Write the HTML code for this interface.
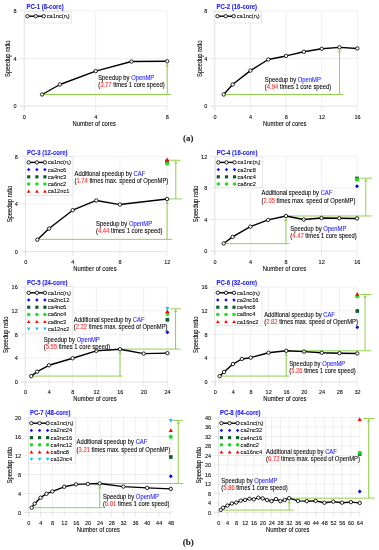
<!DOCTYPE html>
<html><head><meta charset="utf-8"><style>
html,body{margin:0;padding:0;background:#fff;}
svg{display:block;font-family:"Liberation Sans",sans-serif;}
text{stroke-width:0.08px;}

</style></head><body>
<svg width="379" height="550" viewBox="0 0 379 550" xmlns="http://www.w3.org/2000/svg">
<defs><filter id="bl" x="0" y="0" width="100%" height="100%"><feGaussianBlur stdDeviation="0.3"/></filter></defs>
<rect width="379" height="550" fill="#fff"/>
<g filter="url(#bl)">
<line x1="95.70" y1="10.82" x2="95.70" y2="106.10" stroke="#e6e6e6" stroke-width="0.6"/>
<line x1="167.20" y1="10.82" x2="167.20" y2="106.10" stroke="#e6e6e6" stroke-width="0.6"/>
<line x1="24.20" y1="58.46" x2="167.20" y2="58.46" stroke="#e6e6e6" stroke-width="0.6"/>
<line x1="24.20" y1="10.82" x2="167.20" y2="10.82" stroke="#e6e6e6" stroke-width="0.6"/>
<line x1="24.20" y1="10.82" x2="24.20" y2="110.40" stroke="#d9d9d9" stroke-width="0.7"/>
<line x1="19.90" y1="106.10" x2="167.20" y2="106.10" stroke="#d9d9d9" stroke-width="0.7"/>
<line x1="19.90" y1="106.10" x2="24.20" y2="106.10" stroke="#d9d9d9" stroke-width="0.6"/>
<text transform="translate(16.60,108.30) scale(1,1)" font-size="5.500" text-anchor="end" fill="#000" stroke="#000" font-weight="normal" >0</text>
<line x1="19.90" y1="58.46" x2="24.20" y2="58.46" stroke="#d9d9d9" stroke-width="0.6"/>
<text transform="translate(16.60,60.66) scale(1,1)" font-size="5.500" text-anchor="end" fill="#000" stroke="#000" font-weight="normal" >4</text>
<line x1="19.90" y1="10.82" x2="24.20" y2="10.82" stroke="#d9d9d9" stroke-width="0.6"/>
<text transform="translate(16.60,13.02) scale(1,1)" font-size="5.500" text-anchor="end" fill="#000" stroke="#000" font-weight="normal" >8</text>
<line x1="24.20" y1="106.10" x2="24.20" y2="110.40" stroke="#d9d9d9" stroke-width="0.6"/>
<text transform="translate(24.40,118.60) scale(1,1)" font-size="5.500" text-anchor="middle" fill="#000" stroke="#000" font-weight="normal" >0</text>
<line x1="95.70" y1="106.10" x2="95.70" y2="110.40" stroke="#d9d9d9" stroke-width="0.6"/>
<text transform="translate(95.90,118.60) scale(1,1)" font-size="5.500" text-anchor="middle" fill="#000" stroke="#000" font-weight="normal" >4</text>
<line x1="167.20" y1="106.10" x2="167.20" y2="110.40" stroke="#d9d9d9" stroke-width="0.6"/>
<text transform="translate(167.40,118.60) scale(1,1)" font-size="5.500" text-anchor="middle" fill="#000" stroke="#000" font-weight="normal" >8</text>
<text transform="translate(94.30,125.50) scale(0.933,1)" font-size="6.302" text-anchor="middle" fill="#000" stroke="#000" font-weight="normal" >Number of cores</text>
<text x="0" y="0" font-size="6.302" text-anchor="middle" fill="#000" stroke="#000" transform="translate(10.40,58.66) rotate(-90) scale(0.933,1)">Speedup ratio</text>
<text transform="translate(26.50,8.70) scale(0.933,1)" font-size="6.431" text-anchor="start" fill="#2020ff" stroke="#2020ff" font-weight="bold" >PC-1 (8-core)</text>
<line x1="43.58" y1="94.50" x2="170.70" y2="94.50" stroke="#92d050" stroke-width="1"/>
<line x1="167.20" y1="94.50" x2="167.20" y2="65.34" stroke="#92d050" stroke-width="1"/>
<path d="M167.20 63.34L168.80 66.54L165.60 66.54Z" fill="#92d050"/>
<polyline points="42.08,94.50 59.95,84.50 95.70,71.06 131.45,61.54 167.20,61.30" fill="none" stroke="#000" stroke-width="1.4" stroke-linejoin="round"/>
<circle cx="42.08" cy="94.50" r="1.70" fill="#fff" stroke="#000" stroke-width="0.85"/>
<circle cx="59.95" cy="84.50" r="1.70" fill="#fff" stroke="#000" stroke-width="0.85"/>
<circle cx="95.70" cy="71.06" r="1.70" fill="#fff" stroke="#000" stroke-width="0.85"/>
<circle cx="131.45" cy="61.54" r="1.70" fill="#fff" stroke="#000" stroke-width="0.85"/>
<circle cx="167.20" cy="61.30" r="1.70" fill="#fff" stroke="#000" stroke-width="0.85"/>
<rect x="24.50" y="11.80" width="47.20" height="11.20" fill="#fff" stroke="#d9d9d9" stroke-width="0.6"/>
<line x1="27.50" y1="16.20" x2="43.70" y2="16.20" stroke="#000" stroke-width="1.4"/>
<circle cx="27.50" cy="16.20" r="1.70" fill="#fff" stroke="#000" stroke-width="0.85"/>
<circle cx="35.70" cy="16.20" r="1.70" fill="#fff" stroke="#000" stroke-width="0.85"/>
<circle cx="43.70" cy="16.20" r="1.70" fill="#fff" stroke="#000" stroke-width="0.85"/>
<text transform="translate(46.70,18.20) scale(0.933,1)" font-size="6.109" text-anchor="start" fill="#000" stroke="#000" font-weight="normal" >ca1nc(n<tspan font-size="3.8" dy="1">i</tspan><tspan dy="-1">)</tspan></text>
<text transform="translate(98.20,79.50) scale(0.933,1)" font-size="6.302" text-anchor="start" fill="#000" stroke="#000" font-weight="normal" >Speedup by <tspan fill="#2020ff" stroke="#2020ff">OpenMP</tspan></text>
<text transform="translate(98.20,86.80) scale(0.933,1)" font-size="6.302" text-anchor="start" fill="#000" stroke="#000" font-weight="normal" >(<tspan fill="#ff2a2a" stroke="#ff2a2a">3.77</tspan> times 1 core speed)</text>
<line x1="250.44" y1="10.90" x2="250.44" y2="106.10" stroke="#e6e6e6" stroke-width="0.6"/>
<line x1="286.08" y1="10.90" x2="286.08" y2="106.10" stroke="#e6e6e6" stroke-width="0.6"/>
<line x1="321.72" y1="10.90" x2="321.72" y2="106.10" stroke="#e6e6e6" stroke-width="0.6"/>
<line x1="357.36" y1="10.90" x2="357.36" y2="106.10" stroke="#e6e6e6" stroke-width="0.6"/>
<line x1="214.80" y1="58.50" x2="357.36" y2="58.50" stroke="#e6e6e6" stroke-width="0.6"/>
<line x1="214.80" y1="10.90" x2="357.36" y2="10.90" stroke="#e6e6e6" stroke-width="0.6"/>
<line x1="214.80" y1="10.90" x2="214.80" y2="110.40" stroke="#d9d9d9" stroke-width="0.7"/>
<line x1="210.50" y1="106.10" x2="357.36" y2="106.10" stroke="#d9d9d9" stroke-width="0.7"/>
<line x1="210.50" y1="106.10" x2="214.80" y2="106.10" stroke="#d9d9d9" stroke-width="0.6"/>
<text transform="translate(207.20,108.30) scale(1,1)" font-size="5.500" text-anchor="end" fill="#000" stroke="#000" font-weight="normal" >0</text>
<line x1="210.50" y1="58.50" x2="214.80" y2="58.50" stroke="#d9d9d9" stroke-width="0.6"/>
<text transform="translate(207.20,60.70) scale(1,1)" font-size="5.500" text-anchor="end" fill="#000" stroke="#000" font-weight="normal" >4</text>
<line x1="210.50" y1="10.90" x2="214.80" y2="10.90" stroke="#d9d9d9" stroke-width="0.6"/>
<text transform="translate(207.20,13.10) scale(1,1)" font-size="5.500" text-anchor="end" fill="#000" stroke="#000" font-weight="normal" >8</text>
<line x1="214.80" y1="106.10" x2="214.80" y2="110.40" stroke="#d9d9d9" stroke-width="0.6"/>
<text transform="translate(215.00,118.60) scale(1,1)" font-size="5.500" text-anchor="middle" fill="#000" stroke="#000" font-weight="normal" >0</text>
<line x1="250.44" y1="106.10" x2="250.44" y2="110.40" stroke="#d9d9d9" stroke-width="0.6"/>
<text transform="translate(250.64,118.60) scale(1,1)" font-size="5.500" text-anchor="middle" fill="#000" stroke="#000" font-weight="normal" >4</text>
<line x1="286.08" y1="106.10" x2="286.08" y2="110.40" stroke="#d9d9d9" stroke-width="0.6"/>
<text transform="translate(286.28,118.60) scale(1,1)" font-size="5.500" text-anchor="middle" fill="#000" stroke="#000" font-weight="normal" >8</text>
<line x1="321.72" y1="106.10" x2="321.72" y2="110.40" stroke="#d9d9d9" stroke-width="0.6"/>
<text transform="translate(321.92,118.60) scale(1,1)" font-size="5.500" text-anchor="middle" fill="#000" stroke="#000" font-weight="normal" >12</text>
<line x1="357.36" y1="106.10" x2="357.36" y2="110.40" stroke="#d9d9d9" stroke-width="0.6"/>
<text transform="translate(357.56,118.60) scale(1,1)" font-size="5.500" text-anchor="middle" fill="#000" stroke="#000" font-weight="normal" >16</text>
<text transform="translate(284.68,125.50) scale(0.933,1)" font-size="6.302" text-anchor="middle" fill="#000" stroke="#000" font-weight="normal" >Number of cores</text>
<text x="0" y="0" font-size="6.302" text-anchor="middle" fill="#000" stroke="#000" transform="translate(201.60,58.70) rotate(-90) scale(0.933,1)">Speedup ratio</text>
<text transform="translate(216.50,8.70) scale(0.933,1)" font-size="6.431" text-anchor="start" fill="#2020ff" stroke="#2020ff" font-weight="bold" >PC-2 (16-core)</text>
<line x1="225.21" y1="94.50" x2="343.04" y2="94.50" stroke="#92d050" stroke-width="1"/>
<line x1="339.54" y1="94.50" x2="339.54" y2="51.41" stroke="#92d050" stroke-width="1"/>
<path d="M339.54 49.41L341.14 52.61L337.94 52.61Z" fill="#92d050"/>
<polyline points="223.71,94.50 232.62,84.50 250.44,70.58 268.26,59.51 286.08,55.94 303.90,51.78 321.72,48.80 339.54,47.38 357.36,48.45" fill="none" stroke="#000" stroke-width="1.4" stroke-linejoin="round"/>
<circle cx="223.71" cy="94.50" r="1.70" fill="#fff" stroke="#000" stroke-width="0.85"/>
<circle cx="232.62" cy="84.50" r="1.70" fill="#fff" stroke="#000" stroke-width="0.85"/>
<circle cx="250.44" cy="70.58" r="1.70" fill="#fff" stroke="#000" stroke-width="0.85"/>
<circle cx="268.26" cy="59.51" r="1.70" fill="#fff" stroke="#000" stroke-width="0.85"/>
<circle cx="286.08" cy="55.94" r="1.70" fill="#fff" stroke="#000" stroke-width="0.85"/>
<circle cx="303.90" cy="51.78" r="1.70" fill="#fff" stroke="#000" stroke-width="0.85"/>
<circle cx="321.72" cy="48.80" r="1.70" fill="#fff" stroke="#000" stroke-width="0.85"/>
<circle cx="339.54" cy="47.38" r="1.70" fill="#fff" stroke="#000" stroke-width="0.85"/>
<circle cx="357.36" cy="48.45" r="1.70" fill="#fff" stroke="#000" stroke-width="0.85"/>
<rect x="214.50" y="11.80" width="47.20" height="11.20" fill="#fff" stroke="#d9d9d9" stroke-width="0.6"/>
<line x1="217.50" y1="16.20" x2="233.70" y2="16.20" stroke="#000" stroke-width="1.4"/>
<circle cx="217.50" cy="16.20" r="1.70" fill="#fff" stroke="#000" stroke-width="0.85"/>
<circle cx="225.70" cy="16.20" r="1.70" fill="#fff" stroke="#000" stroke-width="0.85"/>
<circle cx="233.70" cy="16.20" r="1.70" fill="#fff" stroke="#000" stroke-width="0.85"/>
<text transform="translate(236.70,18.20) scale(0.933,1)" font-size="6.109" text-anchor="start" fill="#000" stroke="#000" font-weight="normal" >ca1nc(n<tspan font-size="3.8" dy="1">i</tspan><tspan dy="-1">)</tspan></text>
<text transform="translate(264.80,81.60) scale(0.933,1)" font-size="6.302" text-anchor="start" fill="#000" stroke="#000" font-weight="normal" >Speedup by <tspan fill="#2020ff" stroke="#2020ff">OpenMP</tspan></text>
<text transform="translate(264.80,88.90) scale(0.933,1)" font-size="6.302" text-anchor="start" fill="#000" stroke="#000" font-weight="normal" >(<tspan fill="#ff2a2a" stroke="#ff2a2a">4.94</tspan> times 1 core speed)</text>
<line x1="72.70" y1="156.30" x2="72.70" y2="251.50" stroke="#e6e6e6" stroke-width="0.6"/>
<line x1="119.90" y1="156.30" x2="119.90" y2="251.50" stroke="#e6e6e6" stroke-width="0.6"/>
<line x1="167.10" y1="156.30" x2="167.10" y2="251.50" stroke="#e6e6e6" stroke-width="0.6"/>
<line x1="25.50" y1="203.90" x2="167.10" y2="203.90" stroke="#e6e6e6" stroke-width="0.6"/>
<line x1="25.50" y1="156.30" x2="167.10" y2="156.30" stroke="#e6e6e6" stroke-width="0.6"/>
<line x1="25.50" y1="156.30" x2="25.50" y2="255.80" stroke="#d9d9d9" stroke-width="0.7"/>
<line x1="21.20" y1="251.50" x2="167.10" y2="251.50" stroke="#d9d9d9" stroke-width="0.7"/>
<line x1="21.20" y1="251.50" x2="25.50" y2="251.50" stroke="#d9d9d9" stroke-width="0.6"/>
<text transform="translate(17.90,253.70) scale(1,1)" font-size="5.500" text-anchor="end" fill="#000" stroke="#000" font-weight="normal" >0</text>
<line x1="21.20" y1="203.90" x2="25.50" y2="203.90" stroke="#d9d9d9" stroke-width="0.6"/>
<text transform="translate(17.90,206.10) scale(1,1)" font-size="5.500" text-anchor="end" fill="#000" stroke="#000" font-weight="normal" >4</text>
<line x1="21.20" y1="156.30" x2="25.50" y2="156.30" stroke="#d9d9d9" stroke-width="0.6"/>
<text transform="translate(17.90,158.50) scale(1,1)" font-size="5.500" text-anchor="end" fill="#000" stroke="#000" font-weight="normal" >8</text>
<line x1="25.50" y1="251.50" x2="25.50" y2="255.80" stroke="#d9d9d9" stroke-width="0.6"/>
<text transform="translate(25.70,264.00) scale(1,1)" font-size="5.500" text-anchor="middle" fill="#000" stroke="#000" font-weight="normal" >0</text>
<line x1="72.70" y1="251.50" x2="72.70" y2="255.80" stroke="#d9d9d9" stroke-width="0.6"/>
<text transform="translate(72.90,264.00) scale(1,1)" font-size="5.500" text-anchor="middle" fill="#000" stroke="#000" font-weight="normal" >4</text>
<line x1="119.90" y1="251.50" x2="119.90" y2="255.80" stroke="#d9d9d9" stroke-width="0.6"/>
<text transform="translate(120.10,264.00) scale(1,1)" font-size="5.500" text-anchor="middle" fill="#000" stroke="#000" font-weight="normal" >8</text>
<line x1="167.10" y1="251.50" x2="167.10" y2="255.80" stroke="#d9d9d9" stroke-width="0.6"/>
<text transform="translate(167.30,264.00) scale(1,1)" font-size="5.500" text-anchor="middle" fill="#000" stroke="#000" font-weight="normal" >12</text>
<text transform="translate(94.90,270.90) scale(0.933,1)" font-size="6.302" text-anchor="middle" fill="#000" stroke="#000" font-weight="normal" >Number of cores</text>
<text x="0" y="0" font-size="6.302" text-anchor="middle" fill="#000" stroke="#000" transform="translate(11.80,204.10) rotate(-90) scale(0.933,1)">Speedup ratio</text>
<text transform="translate(27.00,154.50) scale(0.933,1)" font-size="6.431" text-anchor="start" fill="#2020ff" stroke="#2020ff" font-weight="bold" >PC-3 (12-core)</text>
<line x1="38.80" y1="239.35" x2="172.30" y2="239.35" stroke="#92d050" stroke-width="1"/>
<line x1="167.10" y1="239.35" x2="167.10" y2="202.73" stroke="#92d050" stroke-width="1"/>
<path d="M167.10 200.73L168.70 203.93L165.50 203.93Z" fill="#92d050"/>
<line x1="168.90" y1="198.93" x2="182.30" y2="198.93" stroke="#92d050" stroke-width="1"/>
<line x1="169.60" y1="160.27" x2="180.60" y2="160.27" stroke="#92d050" stroke-width="1"/>
<line x1="175.80" y1="198.93" x2="175.80" y2="162.27" stroke="#92d050" stroke-width="1"/>
<path d="M175.80 160.27L177.40 163.47L174.20 163.47Z" fill="#92d050"/>
<polyline points="37.30,239.70 49.10,228.54 72.70,210.21 96.30,200.46 119.90,204.57 167.10,199.05" fill="none" stroke="#000" stroke-width="1.4" stroke-linejoin="round"/>
<circle cx="37.30" cy="239.70" r="1.70" fill="#fff" stroke="#000" stroke-width="0.85"/>
<circle cx="49.10" cy="228.54" r="1.70" fill="#fff" stroke="#000" stroke-width="0.85"/>
<circle cx="72.70" cy="210.21" r="1.70" fill="#fff" stroke="#000" stroke-width="0.85"/>
<circle cx="96.30" cy="200.46" r="1.70" fill="#fff" stroke="#000" stroke-width="0.85"/>
<circle cx="119.90" cy="204.57" r="1.70" fill="#fff" stroke="#000" stroke-width="0.85"/>
<circle cx="167.10" cy="199.05" r="1.70" fill="#fff" stroke="#000" stroke-width="0.85"/>
<path d="M167.10 160.44L169.05 162.39L167.10 164.34L165.15 162.39Z" fill="#0000ff"/>
<rect x="165.28" y="159.75" width="3.64" height="3.64" fill="#0a5c2a"/>
<circle cx="167.10" cy="163.56" r="2.08" fill="#22dd22"/>
<path d="M167.10 157.60L169.18 161.35L165.02 161.35Z" fill="#ff0000"/>
<rect x="25.70" y="156.90" width="47.20" height="38.48" fill="#fff" stroke="#d9d9d9" stroke-width="0.6"/>
<line x1="28.70" y1="162.40" x2="44.90" y2="162.40" stroke="#000" stroke-width="1.4"/>
<circle cx="28.70" cy="162.40" r="1.70" fill="#fff" stroke="#000" stroke-width="0.85"/>
<circle cx="36.90" cy="162.40" r="1.70" fill="#fff" stroke="#000" stroke-width="0.85"/>
<circle cx="44.90" cy="162.40" r="1.70" fill="#fff" stroke="#000" stroke-width="0.85"/>
<text transform="translate(47.90,164.40) scale(0.933,1)" font-size="6.109" text-anchor="start" fill="#000" stroke="#000" font-weight="normal" >ca1nc(n<tspan font-size="3.8" dy="1">i</tspan><tspan dy="-1">)</tspan></text>
<path d="M28.70 167.94L30.38 169.62L28.70 171.30L27.02 169.62Z" fill="#0000ff"/>
<path d="M36.90 167.94L38.58 169.62L36.90 171.30L35.22 169.62Z" fill="#0000ff"/>
<path d="M44.90 167.94L46.58 169.62L44.90 171.30L43.22 169.62Z" fill="#0000ff"/>
<text transform="translate(47.90,171.62) scale(0.933,1)" font-size="6.109" text-anchor="start" fill="#000" stroke="#000" font-weight="normal" >ca2nc6</text>
<rect x="27.13" y="175.27" width="3.14" height="3.14" fill="#0a5c2a"/>
<rect x="35.33" y="175.27" width="3.14" height="3.14" fill="#0a5c2a"/>
<rect x="43.33" y="175.27" width="3.14" height="3.14" fill="#0a5c2a"/>
<text transform="translate(47.90,178.84) scale(0.933,1)" font-size="6.109" text-anchor="start" fill="#000" stroke="#000" font-weight="normal" >ca4nc3</text>
<circle cx="28.70" cy="184.06" r="1.79" fill="#22dd22"/>
<circle cx="36.90" cy="184.06" r="1.79" fill="#22dd22"/>
<circle cx="44.90" cy="184.06" r="1.79" fill="#22dd22"/>
<text transform="translate(47.90,186.06) scale(0.933,1)" font-size="6.109" text-anchor="start" fill="#000" stroke="#000" font-weight="normal" >ca6nc2</text>
<path d="M28.70 189.49L30.49 192.71L26.91 192.71Z" fill="#ff0000"/>
<path d="M36.90 189.49L38.69 192.71L35.11 192.71Z" fill="#ff0000"/>
<path d="M44.90 189.49L46.69 192.71L43.11 192.71Z" fill="#ff0000"/>
<text transform="translate(47.90,193.28) scale(0.933,1)" font-size="6.109" text-anchor="start" fill="#000" stroke="#000" font-weight="normal" >ca12nc1</text>
<text transform="translate(74.50,175.80) scale(0.933,1)" font-size="6.270" text-anchor="start" fill="#000" stroke="#000" font-weight="normal" >Additional speedup by <tspan fill="#2020ff" stroke="#2020ff">CAF</tspan></text>
<text transform="translate(74.50,183.10) scale(0.933,1)" font-size="6.270" text-anchor="start" fill="#000" stroke="#000" font-weight="normal" >(<tspan fill="#ff2a2a" stroke="#ff2a2a">1.74</tspan> times max. speed of OpenMP)</text>
<text transform="translate(96.00,226.10) scale(0.933,1)" font-size="6.302" text-anchor="start" fill="#000" stroke="#000" font-weight="normal" >Speedup by <tspan fill="#2020ff" stroke="#2020ff">OpenMP</tspan></text>
<text transform="translate(96.00,233.40) scale(0.933,1)" font-size="6.302" text-anchor="start" fill="#000" stroke="#000" font-weight="normal" >(<tspan fill="#ff2a2a" stroke="#ff2a2a">4.44</tspan> times 1 core speed)</text>
<line x1="250.36" y1="156.30" x2="250.36" y2="251.10" stroke="#e6e6e6" stroke-width="0.6"/>
<line x1="285.92" y1="156.30" x2="285.92" y2="251.10" stroke="#e6e6e6" stroke-width="0.6"/>
<line x1="321.48" y1="156.30" x2="321.48" y2="251.10" stroke="#e6e6e6" stroke-width="0.6"/>
<line x1="357.04" y1="156.30" x2="357.04" y2="251.10" stroke="#e6e6e6" stroke-width="0.6"/>
<line x1="214.80" y1="219.50" x2="357.04" y2="219.50" stroke="#e6e6e6" stroke-width="0.6"/>
<line x1="214.80" y1="187.90" x2="357.04" y2="187.90" stroke="#e6e6e6" stroke-width="0.6"/>
<line x1="214.80" y1="156.30" x2="357.04" y2="156.30" stroke="#e6e6e6" stroke-width="0.6"/>
<line x1="214.80" y1="156.30" x2="214.80" y2="255.40" stroke="#d9d9d9" stroke-width="0.7"/>
<line x1="210.50" y1="251.10" x2="357.04" y2="251.10" stroke="#d9d9d9" stroke-width="0.7"/>
<line x1="210.50" y1="251.10" x2="214.80" y2="251.10" stroke="#d9d9d9" stroke-width="0.6"/>
<text transform="translate(207.20,253.30) scale(1,1)" font-size="5.500" text-anchor="end" fill="#000" stroke="#000" font-weight="normal" >0</text>
<line x1="210.50" y1="219.50" x2="214.80" y2="219.50" stroke="#d9d9d9" stroke-width="0.6"/>
<text transform="translate(207.20,221.70) scale(1,1)" font-size="5.500" text-anchor="end" fill="#000" stroke="#000" font-weight="normal" >4</text>
<line x1="210.50" y1="187.90" x2="214.80" y2="187.90" stroke="#d9d9d9" stroke-width="0.6"/>
<text transform="translate(207.20,190.10) scale(1,1)" font-size="5.500" text-anchor="end" fill="#000" stroke="#000" font-weight="normal" >8</text>
<line x1="210.50" y1="156.30" x2="214.80" y2="156.30" stroke="#d9d9d9" stroke-width="0.6"/>
<text transform="translate(207.20,158.50) scale(1,1)" font-size="5.500" text-anchor="end" fill="#000" stroke="#000" font-weight="normal" >12</text>
<line x1="214.80" y1="251.10" x2="214.80" y2="255.40" stroke="#d9d9d9" stroke-width="0.6"/>
<text transform="translate(215.00,263.60) scale(1,1)" font-size="5.500" text-anchor="middle" fill="#000" stroke="#000" font-weight="normal" >0</text>
<line x1="250.36" y1="251.10" x2="250.36" y2="255.40" stroke="#d9d9d9" stroke-width="0.6"/>
<text transform="translate(250.56,263.60) scale(1,1)" font-size="5.500" text-anchor="middle" fill="#000" stroke="#000" font-weight="normal" >4</text>
<line x1="285.92" y1="251.10" x2="285.92" y2="255.40" stroke="#d9d9d9" stroke-width="0.6"/>
<text transform="translate(286.12,263.60) scale(1,1)" font-size="5.500" text-anchor="middle" fill="#000" stroke="#000" font-weight="normal" >8</text>
<line x1="321.48" y1="251.10" x2="321.48" y2="255.40" stroke="#d9d9d9" stroke-width="0.6"/>
<text transform="translate(321.68,263.60) scale(1,1)" font-size="5.500" text-anchor="middle" fill="#000" stroke="#000" font-weight="normal" >12</text>
<line x1="357.04" y1="251.10" x2="357.04" y2="255.40" stroke="#d9d9d9" stroke-width="0.6"/>
<text transform="translate(357.24,263.60) scale(1,1)" font-size="5.500" text-anchor="middle" fill="#000" stroke="#000" font-weight="normal" >16</text>
<text transform="translate(284.52,270.50) scale(0.933,1)" font-size="6.302" text-anchor="middle" fill="#000" stroke="#000" font-weight="normal" >Number of cores</text>
<text x="0" y="0" font-size="6.302" text-anchor="middle" fill="#000" stroke="#000" transform="translate(198.00,203.90) rotate(-90) scale(0.933,1)">Speedup ratio</text>
<text transform="translate(216.80,154.50) scale(0.933,1)" font-size="6.431" text-anchor="start" fill="#2020ff" stroke="#2020ff" font-weight="bold" >PC-4 (16-core)</text>
<line x1="225.19" y1="243.62" x2="289.42" y2="243.62" stroke="#92d050" stroke-width="1"/>
<line x1="285.92" y1="243.62" x2="285.92" y2="219.78" stroke="#92d050" stroke-width="1"/>
<path d="M285.92 217.78L287.52 220.98L284.32 220.98Z" fill="#92d050"/>
<line x1="287.72" y1="215.98" x2="371.64" y2="215.98" stroke="#92d050" stroke-width="1"/>
<line x1="360.14" y1="178.18" x2="372.14" y2="178.18" stroke="#92d050" stroke-width="1"/>
<line x1="365.84" y1="215.98" x2="365.84" y2="180.18" stroke="#92d050" stroke-width="1"/>
<path d="M365.84 178.18L367.44 181.38L364.24 181.38Z" fill="#92d050"/>
<polyline points="223.69,243.47 232.58,236.93 250.36,226.62 268.14,219.92 285.92,215.98 303.70,219.53 321.48,218.03 339.26,218.27 357.04,218.50" fill="none" stroke="#000" stroke-width="1.4" stroke-linejoin="round"/>
<circle cx="223.69" cy="243.47" r="1.70" fill="#fff" stroke="#000" stroke-width="0.85"/>
<circle cx="232.58" cy="236.93" r="1.70" fill="#fff" stroke="#000" stroke-width="0.85"/>
<circle cx="250.36" cy="226.62" r="1.70" fill="#fff" stroke="#000" stroke-width="0.85"/>
<circle cx="268.14" cy="219.92" r="1.70" fill="#fff" stroke="#000" stroke-width="0.85"/>
<circle cx="285.92" cy="215.98" r="1.70" fill="#fff" stroke="#000" stroke-width="0.85"/>
<circle cx="303.70" cy="219.53" r="1.70" fill="#fff" stroke="#000" stroke-width="0.85"/>
<circle cx="321.48" cy="218.03" r="1.70" fill="#fff" stroke="#000" stroke-width="0.85"/>
<circle cx="339.26" cy="218.27" r="1.70" fill="#fff" stroke="#000" stroke-width="0.85"/>
<circle cx="357.04" cy="218.50" r="1.70" fill="#fff" stroke="#000" stroke-width="0.85"/>
<path d="M357.04 184.27L358.99 186.22L357.04 188.17L355.09 186.22Z" fill="#0000ff"/>
<rect x="355.22" y="176.60" width="3.64" height="3.64" fill="#0a5c2a"/>
<circle cx="357.04" cy="179.68" r="2.08" fill="#22dd22"/>
<rect x="215.30" y="156.90" width="47.20" height="30.96" fill="#fff" stroke="#d9d9d9" stroke-width="0.6"/>
<line x1="218.30" y1="162.40" x2="234.50" y2="162.40" stroke="#000" stroke-width="1.4"/>
<circle cx="218.30" cy="162.40" r="1.70" fill="#fff" stroke="#000" stroke-width="0.85"/>
<circle cx="226.50" cy="162.40" r="1.70" fill="#fff" stroke="#000" stroke-width="0.85"/>
<circle cx="234.50" cy="162.40" r="1.70" fill="#fff" stroke="#000" stroke-width="0.85"/>
<text transform="translate(237.50,164.40) scale(0.933,1)" font-size="6.109" text-anchor="start" fill="#000" stroke="#000" font-weight="normal" >ca1nc(n<tspan font-size="3.8" dy="1">i</tspan><tspan dy="-1">)</tspan></text>
<path d="M218.30 167.94L219.98 169.62L218.30 171.30L216.62 169.62Z" fill="#0000ff"/>
<path d="M226.50 167.94L228.18 169.62L226.50 171.30L224.82 169.62Z" fill="#0000ff"/>
<path d="M234.50 167.94L236.18 169.62L234.50 171.30L232.82 169.62Z" fill="#0000ff"/>
<text transform="translate(237.50,171.62) scale(0.933,1)" font-size="6.109" text-anchor="start" fill="#000" stroke="#000" font-weight="normal" >ca2nc8</text>
<rect x="216.73" y="175.27" width="3.14" height="3.14" fill="#0a5c2a"/>
<rect x="224.93" y="175.27" width="3.14" height="3.14" fill="#0a5c2a"/>
<rect x="232.93" y="175.27" width="3.14" height="3.14" fill="#0a5c2a"/>
<text transform="translate(237.50,178.84) scale(0.933,1)" font-size="6.109" text-anchor="start" fill="#000" stroke="#000" font-weight="normal" >ca4nc4</text>
<circle cx="218.30" cy="184.06" r="1.79" fill="#22dd22"/>
<circle cx="226.50" cy="184.06" r="1.79" fill="#22dd22"/>
<circle cx="234.50" cy="184.06" r="1.79" fill="#22dd22"/>
<text transform="translate(237.50,186.06) scale(0.933,1)" font-size="6.109" text-anchor="start" fill="#000" stroke="#000" font-weight="normal" >ca8nc2</text>
<text transform="translate(261.60,195.30) scale(0.933,1)" font-size="6.270" text-anchor="start" fill="#000" stroke="#000" font-weight="normal" >Additional speedup by <tspan fill="#2020ff" stroke="#2020ff">CAF</tspan></text>
<text transform="translate(261.60,202.60) scale(0.933,1)" font-size="6.270" text-anchor="start" fill="#000" stroke="#000" font-weight="normal" >(<tspan fill="#ff2a2a" stroke="#ff2a2a">2.05</tspan> times max. speed of OpenMP)</text>
<text transform="translate(290.30,231.10) scale(0.933,1)" font-size="6.302" text-anchor="start" fill="#000" stroke="#000" font-weight="normal" >Speedup by <tspan fill="#2020ff" stroke="#2020ff">OpenMP</tspan></text>
<text transform="translate(290.30,238.40) scale(0.933,1)" font-size="6.302" text-anchor="start" fill="#000" stroke="#000" font-weight="normal" >(<tspan fill="#ff2a2a" stroke="#ff2a2a">4.47</tspan> times 1 core speed)</text>
<line x1="48.98" y1="287.10" x2="48.98" y2="381.95" stroke="#e6e6e6" stroke-width="0.6"/>
<line x1="72.66" y1="287.10" x2="72.66" y2="381.95" stroke="#e6e6e6" stroke-width="0.6"/>
<line x1="96.34" y1="287.10" x2="96.34" y2="381.95" stroke="#e6e6e6" stroke-width="0.6"/>
<line x1="120.02" y1="287.10" x2="120.02" y2="381.95" stroke="#e6e6e6" stroke-width="0.6"/>
<line x1="143.70" y1="287.10" x2="143.70" y2="381.95" stroke="#e6e6e6" stroke-width="0.6"/>
<line x1="167.38" y1="287.10" x2="167.38" y2="381.95" stroke="#e6e6e6" stroke-width="0.6"/>
<line x1="25.30" y1="358.24" x2="167.38" y2="358.24" stroke="#e6e6e6" stroke-width="0.6"/>
<line x1="25.30" y1="334.53" x2="167.38" y2="334.53" stroke="#e6e6e6" stroke-width="0.6"/>
<line x1="25.30" y1="310.81" x2="167.38" y2="310.81" stroke="#e6e6e6" stroke-width="0.6"/>
<line x1="25.30" y1="287.10" x2="167.38" y2="287.10" stroke="#e6e6e6" stroke-width="0.6"/>
<line x1="25.30" y1="287.10" x2="25.30" y2="386.25" stroke="#d9d9d9" stroke-width="0.7"/>
<line x1="21.00" y1="381.95" x2="167.38" y2="381.95" stroke="#d9d9d9" stroke-width="0.7"/>
<line x1="21.00" y1="381.95" x2="25.30" y2="381.95" stroke="#d9d9d9" stroke-width="0.6"/>
<text transform="translate(17.70,384.15) scale(1,1)" font-size="5.500" text-anchor="end" fill="#000" stroke="#000" font-weight="normal" >0</text>
<line x1="21.00" y1="358.24" x2="25.30" y2="358.24" stroke="#d9d9d9" stroke-width="0.6"/>
<text transform="translate(17.70,360.44) scale(1,1)" font-size="5.500" text-anchor="end" fill="#000" stroke="#000" font-weight="normal" >4</text>
<line x1="21.00" y1="334.53" x2="25.30" y2="334.53" stroke="#d9d9d9" stroke-width="0.6"/>
<text transform="translate(17.70,336.73) scale(1,1)" font-size="5.500" text-anchor="end" fill="#000" stroke="#000" font-weight="normal" >8</text>
<line x1="21.00" y1="310.81" x2="25.30" y2="310.81" stroke="#d9d9d9" stroke-width="0.6"/>
<text transform="translate(17.70,313.01) scale(1,1)" font-size="5.500" text-anchor="end" fill="#000" stroke="#000" font-weight="normal" >12</text>
<line x1="21.00" y1="287.10" x2="25.30" y2="287.10" stroke="#d9d9d9" stroke-width="0.6"/>
<text transform="translate(17.70,289.30) scale(1,1)" font-size="5.500" text-anchor="end" fill="#000" stroke="#000" font-weight="normal" >16</text>
<line x1="25.30" y1="381.95" x2="25.30" y2="386.25" stroke="#d9d9d9" stroke-width="0.6"/>
<text transform="translate(25.50,394.45) scale(1,1)" font-size="5.500" text-anchor="middle" fill="#000" stroke="#000" font-weight="normal" >0</text>
<line x1="48.98" y1="381.95" x2="48.98" y2="386.25" stroke="#d9d9d9" stroke-width="0.6"/>
<text transform="translate(49.18,394.45) scale(1,1)" font-size="5.500" text-anchor="middle" fill="#000" stroke="#000" font-weight="normal" >4</text>
<line x1="72.66" y1="381.95" x2="72.66" y2="386.25" stroke="#d9d9d9" stroke-width="0.6"/>
<text transform="translate(72.86,394.45) scale(1,1)" font-size="5.500" text-anchor="middle" fill="#000" stroke="#000" font-weight="normal" >8</text>
<line x1="96.34" y1="381.95" x2="96.34" y2="386.25" stroke="#d9d9d9" stroke-width="0.6"/>
<text transform="translate(96.54,394.45) scale(1,1)" font-size="5.500" text-anchor="middle" fill="#000" stroke="#000" font-weight="normal" >12</text>
<line x1="120.02" y1="381.95" x2="120.02" y2="386.25" stroke="#d9d9d9" stroke-width="0.6"/>
<text transform="translate(120.22,394.45) scale(1,1)" font-size="5.500" text-anchor="middle" fill="#000" stroke="#000" font-weight="normal" >16</text>
<line x1="143.70" y1="381.95" x2="143.70" y2="386.25" stroke="#d9d9d9" stroke-width="0.6"/>
<text transform="translate(143.90,394.45) scale(1,1)" font-size="5.500" text-anchor="middle" fill="#000" stroke="#000" font-weight="normal" >20</text>
<line x1="167.38" y1="381.95" x2="167.38" y2="386.25" stroke="#d9d9d9" stroke-width="0.6"/>
<text transform="translate(167.58,394.45) scale(1,1)" font-size="5.500" text-anchor="middle" fill="#000" stroke="#000" font-weight="normal" >24</text>
<text transform="translate(94.94,401.35) scale(0.933,1)" font-size="6.302" text-anchor="middle" fill="#000" stroke="#000" font-weight="normal" >Number of cores</text>
<text x="0" y="0" font-size="6.302" text-anchor="middle" fill="#000" stroke="#000" transform="translate(7.60,334.73) rotate(-90) scale(0.933,1)">Speedup ratio</text>
<text transform="translate(27.00,284.60) scale(0.933,1)" font-size="6.431" text-anchor="start" fill="#2020ff" stroke="#2020ff" font-weight="bold" >PC-5 (24-core)</text>
<line x1="32.72" y1="376.07" x2="122.42" y2="376.07" stroke="#92d050" stroke-width="1"/>
<line x1="120.02" y1="376.07" x2="120.02" y2="352.89" stroke="#92d050" stroke-width="1"/>
<path d="M120.02 350.89L121.62 354.09L118.42 354.09Z" fill="#92d050"/>
<line x1="121.82" y1="349.09" x2="180.78" y2="349.09" stroke="#92d050" stroke-width="1"/>
<line x1="170.38" y1="308.82" x2="180.78" y2="308.82" stroke="#92d050" stroke-width="1"/>
<line x1="175.58" y1="349.09" x2="175.58" y2="310.82" stroke="#92d050" stroke-width="1"/>
<path d="M175.58 308.82L177.18 312.02L173.98 312.02Z" fill="#92d050"/>
<polyline points="31.22,376.07 37.14,371.68 48.98,365.28 72.66,358.28 96.34,350.81 120.02,349.21 143.70,353.60 167.38,353.12" fill="none" stroke="#000" stroke-width="1.4" stroke-linejoin="round"/>
<circle cx="31.22" cy="376.07" r="1.70" fill="#fff" stroke="#000" stroke-width="0.85"/>
<circle cx="37.14" cy="371.68" r="1.70" fill="#fff" stroke="#000" stroke-width="0.85"/>
<circle cx="48.98" cy="365.28" r="1.70" fill="#fff" stroke="#000" stroke-width="0.85"/>
<circle cx="72.66" cy="358.28" r="1.70" fill="#fff" stroke="#000" stroke-width="0.85"/>
<circle cx="96.34" cy="350.81" r="1.70" fill="#fff" stroke="#000" stroke-width="0.85"/>
<circle cx="120.02" cy="349.21" r="1.70" fill="#fff" stroke="#000" stroke-width="0.85"/>
<circle cx="143.70" cy="353.60" r="1.70" fill="#fff" stroke="#000" stroke-width="0.85"/>
<circle cx="167.38" cy="353.12" r="1.70" fill="#fff" stroke="#000" stroke-width="0.85"/>
<path d="M167.38 330.24L169.33 332.19L167.38 334.14L165.43 332.19Z" fill="#0000ff"/>
<rect x="165.56" y="317.97" width="3.64" height="3.64" fill="#0a5c2a"/>
<circle cx="167.38" cy="313.81" r="2.08" fill="#22dd22"/>
<path d="M167.38 309.23L169.46 312.98L165.30 312.98Z" fill="#ff0000"/>
<path d="M167.38 310.79L169.46 307.04L165.30 307.04Z" fill="#1ebeff"/>
<rect x="25.70" y="286.80" width="47.20" height="46.00" fill="#fff" stroke="#d9d9d9" stroke-width="0.6"/>
<line x1="28.70" y1="292.80" x2="44.90" y2="292.80" stroke="#000" stroke-width="1.4"/>
<circle cx="28.70" cy="292.80" r="1.70" fill="#fff" stroke="#000" stroke-width="0.85"/>
<circle cx="36.90" cy="292.80" r="1.70" fill="#fff" stroke="#000" stroke-width="0.85"/>
<circle cx="44.90" cy="292.80" r="1.70" fill="#fff" stroke="#000" stroke-width="0.85"/>
<text transform="translate(47.90,294.80) scale(0.933,1)" font-size="6.109" text-anchor="start" fill="#000" stroke="#000" font-weight="normal" >ca1nc(n<tspan font-size="3.8" dy="1">i</tspan><tspan dy="-1">)</tspan></text>
<path d="M28.70 298.34L30.38 300.02L28.70 301.70L27.02 300.02Z" fill="#0000ff"/>
<path d="M36.90 298.34L38.58 300.02L36.90 301.70L35.22 300.02Z" fill="#0000ff"/>
<path d="M44.90 298.34L46.58 300.02L44.90 301.70L43.22 300.02Z" fill="#0000ff"/>
<text transform="translate(47.90,302.02) scale(0.933,1)" font-size="6.109" text-anchor="start" fill="#000" stroke="#000" font-weight="normal" >ca2nc12</text>
<rect x="27.13" y="305.67" width="3.14" height="3.14" fill="#0a5c2a"/>
<rect x="35.33" y="305.67" width="3.14" height="3.14" fill="#0a5c2a"/>
<rect x="43.33" y="305.67" width="3.14" height="3.14" fill="#0a5c2a"/>
<text transform="translate(47.90,309.24) scale(0.933,1)" font-size="6.109" text-anchor="start" fill="#000" stroke="#000" font-weight="normal" >ca4nc6</text>
<circle cx="28.70" cy="314.46" r="1.79" fill="#22dd22"/>
<circle cx="36.90" cy="314.46" r="1.79" fill="#22dd22"/>
<circle cx="44.90" cy="314.46" r="1.79" fill="#22dd22"/>
<text transform="translate(47.90,316.46) scale(0.933,1)" font-size="6.109" text-anchor="start" fill="#000" stroke="#000" font-weight="normal" >ca6nc4</text>
<path d="M28.70 319.89L30.49 323.11L26.91 323.11Z" fill="#ff0000"/>
<path d="M36.90 319.89L38.69 323.11L35.11 323.11Z" fill="#ff0000"/>
<path d="M44.90 319.89L46.69 323.11L43.11 323.11Z" fill="#ff0000"/>
<text transform="translate(47.90,323.68) scale(0.933,1)" font-size="6.109" text-anchor="start" fill="#000" stroke="#000" font-weight="normal" >ca8nc3</text>
<path d="M28.70 330.69L30.49 327.47L26.91 327.47Z" fill="#1ebeff"/>
<path d="M36.90 330.69L38.69 327.47L35.11 327.47Z" fill="#1ebeff"/>
<path d="M44.90 330.69L46.69 327.47L43.11 327.47Z" fill="#1ebeff"/>
<text transform="translate(47.90,330.90) scale(0.933,1)" font-size="6.109" text-anchor="start" fill="#000" stroke="#000" font-weight="normal" >ca12nc2</text>
<text transform="translate(73.80,321.60) scale(0.933,1)" font-size="6.270" text-anchor="start" fill="#000" stroke="#000" font-weight="normal" >Additional speedup by <tspan fill="#2020ff" stroke="#2020ff">CAF</tspan></text>
<text transform="translate(73.80,328.90) scale(0.933,1)" font-size="6.270" text-anchor="start" fill="#000" stroke="#000" font-weight="normal" >(<tspan fill="#ff2a2a" stroke="#ff2a2a">2.22</tspan> times max. speed of OpenMP)</text>
<text transform="translate(43.70,341.70) scale(0.933,1)" font-size="6.302" text-anchor="start" fill="#000" stroke="#000" font-weight="normal" >Speedup by <tspan fill="#2020ff" stroke="#2020ff">OpenMP</tspan></text>
<text transform="translate(43.70,349.00) scale(0.933,1)" font-size="6.302" text-anchor="start" fill="#000" stroke="#000" font-weight="normal" >(<tspan fill="#ff2a2a" stroke="#ff2a2a">5.55</tspan> times 1 core speed)</text>
<line x1="232.96" y1="287.10" x2="232.96" y2="381.90" stroke="#e6e6e6" stroke-width="0.6"/>
<line x1="250.72" y1="287.10" x2="250.72" y2="381.90" stroke="#e6e6e6" stroke-width="0.6"/>
<line x1="268.48" y1="287.10" x2="268.48" y2="381.90" stroke="#e6e6e6" stroke-width="0.6"/>
<line x1="286.24" y1="287.10" x2="286.24" y2="381.90" stroke="#e6e6e6" stroke-width="0.6"/>
<line x1="304.00" y1="287.10" x2="304.00" y2="381.90" stroke="#e6e6e6" stroke-width="0.6"/>
<line x1="321.76" y1="287.10" x2="321.76" y2="381.90" stroke="#e6e6e6" stroke-width="0.6"/>
<line x1="339.52" y1="287.10" x2="339.52" y2="381.90" stroke="#e6e6e6" stroke-width="0.6"/>
<line x1="357.28" y1="287.10" x2="357.28" y2="381.90" stroke="#e6e6e6" stroke-width="0.6"/>
<line x1="215.20" y1="358.20" x2="357.28" y2="358.20" stroke="#e6e6e6" stroke-width="0.6"/>
<line x1="215.20" y1="334.50" x2="357.28" y2="334.50" stroke="#e6e6e6" stroke-width="0.6"/>
<line x1="215.20" y1="310.80" x2="357.28" y2="310.80" stroke="#e6e6e6" stroke-width="0.6"/>
<line x1="215.20" y1="287.10" x2="357.28" y2="287.10" stroke="#e6e6e6" stroke-width="0.6"/>
<line x1="215.20" y1="287.10" x2="215.20" y2="386.20" stroke="#d9d9d9" stroke-width="0.7"/>
<line x1="210.90" y1="381.90" x2="357.28" y2="381.90" stroke="#d9d9d9" stroke-width="0.7"/>
<line x1="210.90" y1="381.90" x2="215.20" y2="381.90" stroke="#d9d9d9" stroke-width="0.6"/>
<text transform="translate(207.60,384.10) scale(1,1)" font-size="5.500" text-anchor="end" fill="#000" stroke="#000" font-weight="normal" >0</text>
<line x1="210.90" y1="358.20" x2="215.20" y2="358.20" stroke="#d9d9d9" stroke-width="0.6"/>
<text transform="translate(207.60,360.40) scale(1,1)" font-size="5.500" text-anchor="end" fill="#000" stroke="#000" font-weight="normal" >4</text>
<line x1="210.90" y1="334.50" x2="215.20" y2="334.50" stroke="#d9d9d9" stroke-width="0.6"/>
<text transform="translate(207.60,336.70) scale(1,1)" font-size="5.500" text-anchor="end" fill="#000" stroke="#000" font-weight="normal" >8</text>
<line x1="210.90" y1="310.80" x2="215.20" y2="310.80" stroke="#d9d9d9" stroke-width="0.6"/>
<text transform="translate(207.60,313.00) scale(1,1)" font-size="5.500" text-anchor="end" fill="#000" stroke="#000" font-weight="normal" >12</text>
<line x1="210.90" y1="287.10" x2="215.20" y2="287.10" stroke="#d9d9d9" stroke-width="0.6"/>
<text transform="translate(207.60,289.30) scale(1,1)" font-size="5.500" text-anchor="end" fill="#000" stroke="#000" font-weight="normal" >16</text>
<line x1="215.20" y1="381.90" x2="215.20" y2="386.20" stroke="#d9d9d9" stroke-width="0.6"/>
<text transform="translate(215.40,394.40) scale(1,1)" font-size="5.500" text-anchor="middle" fill="#000" stroke="#000" font-weight="normal" >0</text>
<line x1="232.96" y1="381.90" x2="232.96" y2="386.20" stroke="#d9d9d9" stroke-width="0.6"/>
<text transform="translate(233.16,394.40) scale(1,1)" font-size="5.500" text-anchor="middle" fill="#000" stroke="#000" font-weight="normal" >4</text>
<line x1="250.72" y1="381.90" x2="250.72" y2="386.20" stroke="#d9d9d9" stroke-width="0.6"/>
<text transform="translate(250.92,394.40) scale(1,1)" font-size="5.500" text-anchor="middle" fill="#000" stroke="#000" font-weight="normal" >8</text>
<line x1="268.48" y1="381.90" x2="268.48" y2="386.20" stroke="#d9d9d9" stroke-width="0.6"/>
<text transform="translate(268.68,394.40) scale(1,1)" font-size="5.500" text-anchor="middle" fill="#000" stroke="#000" font-weight="normal" >12</text>
<line x1="286.24" y1="381.90" x2="286.24" y2="386.20" stroke="#d9d9d9" stroke-width="0.6"/>
<text transform="translate(286.44,394.40) scale(1,1)" font-size="5.500" text-anchor="middle" fill="#000" stroke="#000" font-weight="normal" >16</text>
<line x1="304.00" y1="381.90" x2="304.00" y2="386.20" stroke="#d9d9d9" stroke-width="0.6"/>
<text transform="translate(304.20,394.40) scale(1,1)" font-size="5.500" text-anchor="middle" fill="#000" stroke="#000" font-weight="normal" >20</text>
<line x1="321.76" y1="381.90" x2="321.76" y2="386.20" stroke="#d9d9d9" stroke-width="0.6"/>
<text transform="translate(321.96,394.40) scale(1,1)" font-size="5.500" text-anchor="middle" fill="#000" stroke="#000" font-weight="normal" >24</text>
<line x1="339.52" y1="381.90" x2="339.52" y2="386.20" stroke="#d9d9d9" stroke-width="0.6"/>
<text transform="translate(339.72,394.40) scale(1,1)" font-size="5.500" text-anchor="middle" fill="#000" stroke="#000" font-weight="normal" >28</text>
<line x1="357.28" y1="381.90" x2="357.28" y2="386.20" stroke="#d9d9d9" stroke-width="0.6"/>
<text transform="translate(357.48,394.40) scale(1,1)" font-size="5.500" text-anchor="middle" fill="#000" stroke="#000" font-weight="normal" >32</text>
<text transform="translate(284.84,401.30) scale(0.933,1)" font-size="6.302" text-anchor="middle" fill="#000" stroke="#000" font-weight="normal" >Number of cores</text>
<text x="0" y="0" font-size="6.302" text-anchor="middle" fill="#000" stroke="#000" transform="translate(197.60,334.70) rotate(-90) scale(0.933,1)">Speedup ratio</text>
<text transform="translate(216.50,284.60) scale(0.933,1)" font-size="6.431" text-anchor="start" fill="#2020ff" stroke="#2020ff" font-weight="bold" >PC-6 (32-core)</text>
<line x1="221.14" y1="376.07" x2="289.74" y2="376.07" stroke="#92d050" stroke-width="1"/>
<line x1="286.24" y1="376.07" x2="286.24" y2="354.61" stroke="#92d050" stroke-width="1"/>
<path d="M286.24 352.61L287.84 355.81L284.64 355.81Z" fill="#92d050"/>
<line x1="288.04" y1="350.81" x2="371.28" y2="350.81" stroke="#92d050" stroke-width="1"/>
<line x1="360.08" y1="294.47" x2="371.28" y2="294.47" stroke="#92d050" stroke-width="1"/>
<line x1="365.08" y1="350.81" x2="365.08" y2="296.47" stroke="#92d050" stroke-width="1"/>
<path d="M365.08 294.47L366.68 297.67L363.48 297.67Z" fill="#92d050"/>
<polyline points="219.64,376.13 224.08,371.98 232.96,364.09 241.84,358.99 250.72,357.69 268.48,352.71 286.24,350.81 304.00,351.58 321.76,352.77 339.52,353.18 357.28,353.48" fill="none" stroke="#000" stroke-width="1.4" stroke-linejoin="round"/>
<circle cx="219.64" cy="376.13" r="1.70" fill="#fff" stroke="#000" stroke-width="0.85"/>
<circle cx="224.08" cy="371.98" r="1.70" fill="#fff" stroke="#000" stroke-width="0.85"/>
<circle cx="232.96" cy="364.09" r="1.70" fill="#fff" stroke="#000" stroke-width="0.85"/>
<circle cx="241.84" cy="358.99" r="1.70" fill="#fff" stroke="#000" stroke-width="0.85"/>
<circle cx="250.72" cy="357.69" r="1.70" fill="#fff" stroke="#000" stroke-width="0.85"/>
<circle cx="268.48" cy="352.71" r="1.70" fill="#fff" stroke="#000" stroke-width="0.85"/>
<circle cx="286.24" cy="350.81" r="1.70" fill="#fff" stroke="#000" stroke-width="0.85"/>
<circle cx="304.00" cy="351.58" r="1.70" fill="#fff" stroke="#000" stroke-width="0.85"/>
<circle cx="321.76" cy="352.77" r="1.70" fill="#fff" stroke="#000" stroke-width="0.85"/>
<circle cx="339.52" cy="353.18" r="1.70" fill="#fff" stroke="#000" stroke-width="0.85"/>
<circle cx="357.28" cy="353.48" r="1.70" fill="#fff" stroke="#000" stroke-width="0.85"/>
<path d="M357.28 325.38L359.23 327.33L357.28 329.28L355.33 327.33Z" fill="#0000ff"/>
<rect x="355.46" y="309.20" width="3.64" height="3.64" fill="#0a5c2a"/>
<circle cx="357.28" cy="296.31" r="2.08" fill="#22dd22"/>
<path d="M357.28 291.92L359.36 295.66L355.20 295.66Z" fill="#ff0000"/>
<rect x="214.80" y="286.80" width="47.20" height="38.78" fill="#fff" stroke="#d9d9d9" stroke-width="0.6"/>
<line x1="217.80" y1="292.80" x2="234.00" y2="292.80" stroke="#000" stroke-width="1.4"/>
<circle cx="217.80" cy="292.80" r="1.70" fill="#fff" stroke="#000" stroke-width="0.85"/>
<circle cx="226.00" cy="292.80" r="1.70" fill="#fff" stroke="#000" stroke-width="0.85"/>
<circle cx="234.00" cy="292.80" r="1.70" fill="#fff" stroke="#000" stroke-width="0.85"/>
<text transform="translate(237.00,294.80) scale(0.933,1)" font-size="6.109" text-anchor="start" fill="#000" stroke="#000" font-weight="normal" >ca1nc(n<tspan font-size="3.8" dy="1">i</tspan><tspan dy="-1">)</tspan></text>
<path d="M217.80 298.34L219.48 300.02L217.80 301.70L216.12 300.02Z" fill="#0000ff"/>
<path d="M226.00 298.34L227.68 300.02L226.00 301.70L224.32 300.02Z" fill="#0000ff"/>
<path d="M234.00 298.34L235.68 300.02L234.00 301.70L232.32 300.02Z" fill="#0000ff"/>
<text transform="translate(237.00,302.02) scale(0.933,1)" font-size="6.109" text-anchor="start" fill="#000" stroke="#000" font-weight="normal" >ca2nc16</text>
<rect x="216.23" y="305.67" width="3.14" height="3.14" fill="#0a5c2a"/>
<rect x="224.43" y="305.67" width="3.14" height="3.14" fill="#0a5c2a"/>
<rect x="232.43" y="305.67" width="3.14" height="3.14" fill="#0a5c2a"/>
<text transform="translate(237.00,309.24) scale(0.933,1)" font-size="6.109" text-anchor="start" fill="#000" stroke="#000" font-weight="normal" >ca4nc8</text>
<circle cx="217.80" cy="314.46" r="1.79" fill="#22dd22"/>
<circle cx="226.00" cy="314.46" r="1.79" fill="#22dd22"/>
<circle cx="234.00" cy="314.46" r="1.79" fill="#22dd22"/>
<text transform="translate(237.00,316.46) scale(0.933,1)" font-size="6.109" text-anchor="start" fill="#000" stroke="#000" font-weight="normal" >ca8nc4</text>
<path d="M217.80 319.89L219.59 323.11L216.01 323.11Z" fill="#ff0000"/>
<path d="M226.00 319.89L227.79 323.11L224.21 323.11Z" fill="#ff0000"/>
<path d="M234.00 319.89L235.79 323.11L232.21 323.11Z" fill="#ff0000"/>
<text transform="translate(237.00,323.68) scale(0.933,1)" font-size="6.109" text-anchor="start" fill="#000" stroke="#000" font-weight="normal" >ca16nc2</text>
<text transform="translate(264.20,316.60) scale(0.933,1)" font-size="6.270" text-anchor="start" fill="#000" stroke="#000" font-weight="normal" >Additional speedup by <tspan fill="#2020ff" stroke="#2020ff">CAF</tspan></text>
<text transform="translate(264.20,323.90) scale(0.933,1)" font-size="6.270" text-anchor="start" fill="#000" stroke="#000" font-weight="normal" >(<tspan fill="#ff2a2a" stroke="#ff2a2a">2.82</tspan> times max. speed of OpenMP)</text>
<text transform="translate(289.20,366.10) scale(0.933,1)" font-size="6.302" text-anchor="start" fill="#000" stroke="#000" font-weight="normal" >Speedup by <tspan fill="#2020ff" stroke="#2020ff">OpenMP</tspan></text>
<text transform="translate(289.20,373.40) scale(0.933,1)" font-size="6.302" text-anchor="start" fill="#000" stroke="#000" font-weight="normal" >(<tspan fill="#ff2a2a" stroke="#ff2a2a">5.26</tspan> times 1 core speed)</text>
<line x1="40.54" y1="417.50" x2="40.54" y2="512.40" stroke="#e6e6e6" stroke-width="0.6"/>
<line x1="52.38" y1="417.50" x2="52.38" y2="512.40" stroke="#e6e6e6" stroke-width="0.6"/>
<line x1="64.22" y1="417.50" x2="64.22" y2="512.40" stroke="#e6e6e6" stroke-width="0.6"/>
<line x1="76.06" y1="417.50" x2="76.06" y2="512.40" stroke="#e6e6e6" stroke-width="0.6"/>
<line x1="87.90" y1="417.50" x2="87.90" y2="512.40" stroke="#e6e6e6" stroke-width="0.6"/>
<line x1="99.74" y1="417.50" x2="99.74" y2="512.40" stroke="#e6e6e6" stroke-width="0.6"/>
<line x1="111.58" y1="417.50" x2="111.58" y2="512.40" stroke="#e6e6e6" stroke-width="0.6"/>
<line x1="123.42" y1="417.50" x2="123.42" y2="512.40" stroke="#e6e6e6" stroke-width="0.6"/>
<line x1="135.26" y1="417.50" x2="135.26" y2="512.40" stroke="#e6e6e6" stroke-width="0.6"/>
<line x1="147.10" y1="417.50" x2="147.10" y2="512.40" stroke="#e6e6e6" stroke-width="0.6"/>
<line x1="158.94" y1="417.50" x2="158.94" y2="512.40" stroke="#e6e6e6" stroke-width="0.6"/>
<line x1="170.78" y1="417.50" x2="170.78" y2="512.40" stroke="#e6e6e6" stroke-width="0.6"/>
<line x1="28.70" y1="493.42" x2="170.78" y2="493.42" stroke="#e6e6e6" stroke-width="0.6"/>
<line x1="28.70" y1="474.44" x2="170.78" y2="474.44" stroke="#e6e6e6" stroke-width="0.6"/>
<line x1="28.70" y1="455.46" x2="170.78" y2="455.46" stroke="#e6e6e6" stroke-width="0.6"/>
<line x1="28.70" y1="436.48" x2="170.78" y2="436.48" stroke="#e6e6e6" stroke-width="0.6"/>
<line x1="28.70" y1="417.50" x2="170.78" y2="417.50" stroke="#e6e6e6" stroke-width="0.6"/>
<line x1="28.70" y1="417.50" x2="28.70" y2="516.70" stroke="#d9d9d9" stroke-width="0.7"/>
<line x1="24.40" y1="512.40" x2="170.78" y2="512.40" stroke="#d9d9d9" stroke-width="0.7"/>
<line x1="24.40" y1="512.40" x2="28.70" y2="512.40" stroke="#d9d9d9" stroke-width="0.6"/>
<text transform="translate(21.10,514.60) scale(1,1)" font-size="5.500" text-anchor="end" fill="#000" stroke="#000" font-weight="normal" >0</text>
<line x1="24.40" y1="493.42" x2="28.70" y2="493.42" stroke="#d9d9d9" stroke-width="0.6"/>
<text transform="translate(21.10,495.62) scale(1,1)" font-size="5.500" text-anchor="end" fill="#000" stroke="#000" font-weight="normal" >4</text>
<line x1="24.40" y1="474.44" x2="28.70" y2="474.44" stroke="#d9d9d9" stroke-width="0.6"/>
<text transform="translate(21.10,476.64) scale(1,1)" font-size="5.500" text-anchor="end" fill="#000" stroke="#000" font-weight="normal" >8</text>
<line x1="24.40" y1="455.46" x2="28.70" y2="455.46" stroke="#d9d9d9" stroke-width="0.6"/>
<text transform="translate(21.10,457.66) scale(1,1)" font-size="5.500" text-anchor="end" fill="#000" stroke="#000" font-weight="normal" >12</text>
<line x1="24.40" y1="436.48" x2="28.70" y2="436.48" stroke="#d9d9d9" stroke-width="0.6"/>
<text transform="translate(21.10,438.68) scale(1,1)" font-size="5.500" text-anchor="end" fill="#000" stroke="#000" font-weight="normal" >16</text>
<line x1="24.40" y1="417.50" x2="28.70" y2="417.50" stroke="#d9d9d9" stroke-width="0.6"/>
<text transform="translate(21.10,419.70) scale(1,1)" font-size="5.500" text-anchor="end" fill="#000" stroke="#000" font-weight="normal" >20</text>
<line x1="28.70" y1="512.40" x2="28.70" y2="516.70" stroke="#d9d9d9" stroke-width="0.6"/>
<text transform="translate(28.90,524.90) scale(1,1)" font-size="5.500" text-anchor="middle" fill="#000" stroke="#000" font-weight="normal" >0</text>
<line x1="40.54" y1="512.40" x2="40.54" y2="516.70" stroke="#d9d9d9" stroke-width="0.6"/>
<text transform="translate(40.74,524.90) scale(1,1)" font-size="5.500" text-anchor="middle" fill="#000" stroke="#000" font-weight="normal" >4</text>
<line x1="52.38" y1="512.40" x2="52.38" y2="516.70" stroke="#d9d9d9" stroke-width="0.6"/>
<text transform="translate(52.58,524.90) scale(1,1)" font-size="5.500" text-anchor="middle" fill="#000" stroke="#000" font-weight="normal" >8</text>
<line x1="64.22" y1="512.40" x2="64.22" y2="516.70" stroke="#d9d9d9" stroke-width="0.6"/>
<text transform="translate(64.42,524.90) scale(1,1)" font-size="5.500" text-anchor="middle" fill="#000" stroke="#000" font-weight="normal" >12</text>
<line x1="76.06" y1="512.40" x2="76.06" y2="516.70" stroke="#d9d9d9" stroke-width="0.6"/>
<text transform="translate(76.26,524.90) scale(1,1)" font-size="5.500" text-anchor="middle" fill="#000" stroke="#000" font-weight="normal" >16</text>
<line x1="87.90" y1="512.40" x2="87.90" y2="516.70" stroke="#d9d9d9" stroke-width="0.6"/>
<text transform="translate(88.10,524.90) scale(1,1)" font-size="5.500" text-anchor="middle" fill="#000" stroke="#000" font-weight="normal" >20</text>
<line x1="99.74" y1="512.40" x2="99.74" y2="516.70" stroke="#d9d9d9" stroke-width="0.6"/>
<text transform="translate(99.94,524.90) scale(1,1)" font-size="5.500" text-anchor="middle" fill="#000" stroke="#000" font-weight="normal" >24</text>
<line x1="111.58" y1="512.40" x2="111.58" y2="516.70" stroke="#d9d9d9" stroke-width="0.6"/>
<text transform="translate(111.78,524.90) scale(1,1)" font-size="5.500" text-anchor="middle" fill="#000" stroke="#000" font-weight="normal" >28</text>
<line x1="123.42" y1="512.40" x2="123.42" y2="516.70" stroke="#d9d9d9" stroke-width="0.6"/>
<text transform="translate(123.62,524.90) scale(1,1)" font-size="5.500" text-anchor="middle" fill="#000" stroke="#000" font-weight="normal" >32</text>
<line x1="135.26" y1="512.40" x2="135.26" y2="516.70" stroke="#d9d9d9" stroke-width="0.6"/>
<text transform="translate(135.46,524.90) scale(1,1)" font-size="5.500" text-anchor="middle" fill="#000" stroke="#000" font-weight="normal" >36</text>
<line x1="147.10" y1="512.40" x2="147.10" y2="516.70" stroke="#d9d9d9" stroke-width="0.6"/>
<text transform="translate(147.30,524.90) scale(1,1)" font-size="5.500" text-anchor="middle" fill="#000" stroke="#000" font-weight="normal" >40</text>
<line x1="158.94" y1="512.40" x2="158.94" y2="516.70" stroke="#d9d9d9" stroke-width="0.6"/>
<text transform="translate(159.14,524.90) scale(1,1)" font-size="5.500" text-anchor="middle" fill="#000" stroke="#000" font-weight="normal" >44</text>
<line x1="170.78" y1="512.40" x2="170.78" y2="516.70" stroke="#d9d9d9" stroke-width="0.6"/>
<text transform="translate(170.98,524.90) scale(1,1)" font-size="5.500" text-anchor="middle" fill="#000" stroke="#000" font-weight="normal" >48</text>
<text transform="translate(98.34,531.80) scale(0.933,1)" font-size="6.302" text-anchor="middle" fill="#000" stroke="#000" font-weight="normal" >Number of cores</text>
<text x="0" y="0" font-size="6.302" text-anchor="middle" fill="#000" stroke="#000" transform="translate(11.70,465.15) rotate(-90) scale(0.933,1)">Speedup ratio</text>
<text transform="translate(30.00,414.90) scale(0.933,1)" font-size="6.431" text-anchor="start" fill="#2020ff" stroke="#2020ff" font-weight="bold" >PC-7 (48-core)</text>
<line x1="33.16" y1="507.70" x2="103.24" y2="507.70" stroke="#92d050" stroke-width="1"/>
<line x1="99.74" y1="507.70" x2="99.74" y2="487.30" stroke="#92d050" stroke-width="1"/>
<path d="M99.74 485.30L101.34 488.50L98.14 488.50Z" fill="#92d050"/>
<line x1="101.54" y1="483.50" x2="183.28" y2="483.50" stroke="#92d050" stroke-width="1"/>
<line x1="172.88" y1="420.51" x2="182.78" y2="420.51" stroke="#92d050" stroke-width="1"/>
<line x1="178.28" y1="483.50" x2="178.28" y2="422.51" stroke="#92d050" stroke-width="1"/>
<path d="M178.28 420.51L179.88 423.71L176.68 423.71Z" fill="#92d050"/>
<polyline points="31.66,507.70 34.62,503.70 40.54,497.69 46.46,493.79 52.38,491.39 64.22,486.78 76.06,484.39 87.90,483.92 99.74,483.50 123.42,486.60 147.10,487.91 170.78,488.90" fill="none" stroke="#000" stroke-width="1.4" stroke-linejoin="round"/>
<circle cx="31.66" cy="507.70" r="1.70" fill="#fff" stroke="#000" stroke-width="0.85"/>
<circle cx="34.62" cy="503.70" r="1.70" fill="#fff" stroke="#000" stroke-width="0.85"/>
<circle cx="40.54" cy="497.69" r="1.70" fill="#fff" stroke="#000" stroke-width="0.85"/>
<circle cx="46.46" cy="493.79" r="1.70" fill="#fff" stroke="#000" stroke-width="0.85"/>
<circle cx="52.38" cy="491.39" r="1.70" fill="#fff" stroke="#000" stroke-width="0.85"/>
<circle cx="64.22" cy="486.78" r="1.70" fill="#fff" stroke="#000" stroke-width="0.85"/>
<circle cx="76.06" cy="484.39" r="1.70" fill="#fff" stroke="#000" stroke-width="0.85"/>
<circle cx="87.90" cy="483.92" r="1.70" fill="#fff" stroke="#000" stroke-width="0.85"/>
<circle cx="99.74" cy="483.50" r="1.70" fill="#fff" stroke="#000" stroke-width="0.85"/>
<circle cx="123.42" cy="486.60" r="1.70" fill="#fff" stroke="#000" stroke-width="0.85"/>
<circle cx="147.10" cy="487.91" r="1.70" fill="#fff" stroke="#000" stroke-width="0.85"/>
<circle cx="170.78" cy="488.90" r="1.70" fill="#fff" stroke="#000" stroke-width="0.85"/>
<path d="M170.78 474.35L172.73 476.30L170.78 478.25L168.83 476.30Z" fill="#0000ff"/>
<rect x="168.96" y="455.17" width="3.64" height="3.64" fill="#0a5c2a"/>
<circle cx="170.78" cy="436.87" r="2.08" fill="#22dd22"/>
<path d="M170.78 428.21L172.86 431.95L168.70 431.95Z" fill="#ff0000"/>
<path d="M170.78 422.69L172.86 418.94L168.70 418.94Z" fill="#1ebeff"/>
<rect x="28.40" y="417.20" width="47.20" height="45.90" fill="#fff" stroke="#d9d9d9" stroke-width="0.6"/>
<line x1="31.40" y1="423.20" x2="47.60" y2="423.20" stroke="#000" stroke-width="1.4"/>
<circle cx="31.40" cy="423.20" r="1.70" fill="#fff" stroke="#000" stroke-width="0.85"/>
<circle cx="39.60" cy="423.20" r="1.70" fill="#fff" stroke="#000" stroke-width="0.85"/>
<circle cx="47.60" cy="423.20" r="1.70" fill="#fff" stroke="#000" stroke-width="0.85"/>
<text transform="translate(50.60,425.20) scale(0.933,1)" font-size="6.109" text-anchor="start" fill="#000" stroke="#000" font-weight="normal" >ca1nc(n<tspan font-size="3.8" dy="1">i</tspan><tspan dy="-1">)</tspan></text>
<path d="M31.40 428.74L33.08 430.42L31.40 432.10L29.72 430.42Z" fill="#0000ff"/>
<path d="M39.60 428.74L41.28 430.42L39.60 432.10L37.92 430.42Z" fill="#0000ff"/>
<path d="M47.60 428.74L49.28 430.42L47.60 432.10L45.92 430.42Z" fill="#0000ff"/>
<text transform="translate(50.60,432.42) scale(0.933,1)" font-size="6.109" text-anchor="start" fill="#000" stroke="#000" font-weight="normal" >ca2nc24</text>
<rect x="29.83" y="436.07" width="3.14" height="3.14" fill="#0a5c2a"/>
<rect x="38.03" y="436.07" width="3.14" height="3.14" fill="#0a5c2a"/>
<rect x="46.03" y="436.07" width="3.14" height="3.14" fill="#0a5c2a"/>
<text transform="translate(50.60,439.64) scale(0.933,1)" font-size="6.109" text-anchor="start" fill="#000" stroke="#000" font-weight="normal" >ca3nc16</text>
<circle cx="31.40" cy="444.86" r="1.79" fill="#22dd22"/>
<circle cx="39.60" cy="444.86" r="1.79" fill="#22dd22"/>
<circle cx="47.60" cy="444.86" r="1.79" fill="#22dd22"/>
<text transform="translate(50.60,446.86) scale(0.933,1)" font-size="6.109" text-anchor="start" fill="#000" stroke="#000" font-weight="normal" >ca4nc12</text>
<path d="M31.40 450.29L33.19 453.51L29.61 453.51Z" fill="#ff0000"/>
<path d="M39.60 450.29L41.39 453.51L37.81 453.51Z" fill="#ff0000"/>
<path d="M47.60 450.29L49.39 453.51L45.81 453.51Z" fill="#ff0000"/>
<text transform="translate(50.60,454.08) scale(0.933,1)" font-size="6.109" text-anchor="start" fill="#000" stroke="#000" font-weight="normal" >ca6nc8</text>
<path d="M31.40 461.09L33.19 457.87L29.61 457.87Z" fill="#1ebeff"/>
<path d="M39.60 461.09L41.39 457.87L37.81 457.87Z" fill="#1ebeff"/>
<path d="M47.60 461.09L49.39 457.87L45.81 457.87Z" fill="#1ebeff"/>
<text transform="translate(50.60,461.30) scale(0.933,1)" font-size="6.109" text-anchor="start" fill="#000" stroke="#000" font-weight="normal" >ca12nc4</text>
<text transform="translate(76.60,444.40) scale(0.933,1)" font-size="6.270" text-anchor="start" fill="#000" stroke="#000" font-weight="normal" >Additional speedup by <tspan fill="#2020ff" stroke="#2020ff">CAF</tspan></text>
<text transform="translate(76.60,451.70) scale(0.933,1)" font-size="6.270" text-anchor="start" fill="#000" stroke="#000" font-weight="normal" >(<tspan fill="#ff2a2a" stroke="#ff2a2a">3.21</tspan> times max. speed of OpenMP)</text>
<text transform="translate(102.90,499.10) scale(0.933,1)" font-size="6.302" text-anchor="start" fill="#000" stroke="#000" font-weight="normal" >Speedup by <tspan fill="#2020ff" stroke="#2020ff">OpenMP</tspan></text>
<text transform="translate(102.90,506.40) scale(0.933,1)" font-size="6.302" text-anchor="start" fill="#000" stroke="#000" font-weight="normal" >(<tspan fill="#ff2a2a" stroke="#ff2a2a">6.01</tspan> times 1 core speed)</text>
<line x1="227.42" y1="417.52" x2="227.42" y2="512.40" stroke="#e6e6e6" stroke-width="0.6"/>
<line x1="236.24" y1="417.52" x2="236.24" y2="512.40" stroke="#e6e6e6" stroke-width="0.6"/>
<line x1="245.06" y1="417.52" x2="245.06" y2="512.40" stroke="#e6e6e6" stroke-width="0.6"/>
<line x1="253.88" y1="417.52" x2="253.88" y2="512.40" stroke="#e6e6e6" stroke-width="0.6"/>
<line x1="262.70" y1="417.52" x2="262.70" y2="512.40" stroke="#e6e6e6" stroke-width="0.6"/>
<line x1="271.52" y1="417.52" x2="271.52" y2="512.40" stroke="#e6e6e6" stroke-width="0.6"/>
<line x1="280.34" y1="417.52" x2="280.34" y2="512.40" stroke="#e6e6e6" stroke-width="0.6"/>
<line x1="289.16" y1="417.52" x2="289.16" y2="512.40" stroke="#e6e6e6" stroke-width="0.6"/>
<line x1="297.98" y1="417.52" x2="297.98" y2="512.40" stroke="#e6e6e6" stroke-width="0.6"/>
<line x1="306.80" y1="417.52" x2="306.80" y2="512.40" stroke="#e6e6e6" stroke-width="0.6"/>
<line x1="315.62" y1="417.52" x2="315.62" y2="512.40" stroke="#e6e6e6" stroke-width="0.6"/>
<line x1="324.44" y1="417.52" x2="324.44" y2="512.40" stroke="#e6e6e6" stroke-width="0.6"/>
<line x1="333.26" y1="417.52" x2="333.26" y2="512.40" stroke="#e6e6e6" stroke-width="0.6"/>
<line x1="342.08" y1="417.52" x2="342.08" y2="512.40" stroke="#e6e6e6" stroke-width="0.6"/>
<line x1="350.90" y1="417.52" x2="350.90" y2="512.40" stroke="#e6e6e6" stroke-width="0.6"/>
<line x1="359.72" y1="417.52" x2="359.72" y2="512.40" stroke="#e6e6e6" stroke-width="0.6"/>
<line x1="218.60" y1="502.91" x2="359.72" y2="502.91" stroke="#e6e6e6" stroke-width="0.6"/>
<line x1="218.60" y1="493.42" x2="359.72" y2="493.42" stroke="#e6e6e6" stroke-width="0.6"/>
<line x1="218.60" y1="483.94" x2="359.72" y2="483.94" stroke="#e6e6e6" stroke-width="0.6"/>
<line x1="218.60" y1="474.45" x2="359.72" y2="474.45" stroke="#e6e6e6" stroke-width="0.6"/>
<line x1="218.60" y1="464.96" x2="359.72" y2="464.96" stroke="#e6e6e6" stroke-width="0.6"/>
<line x1="218.60" y1="455.47" x2="359.72" y2="455.47" stroke="#e6e6e6" stroke-width="0.6"/>
<line x1="218.60" y1="445.98" x2="359.72" y2="445.98" stroke="#e6e6e6" stroke-width="0.6"/>
<line x1="218.60" y1="436.50" x2="359.72" y2="436.50" stroke="#e6e6e6" stroke-width="0.6"/>
<line x1="218.60" y1="427.01" x2="359.72" y2="427.01" stroke="#e6e6e6" stroke-width="0.6"/>
<line x1="218.60" y1="417.52" x2="359.72" y2="417.52" stroke="#e6e6e6" stroke-width="0.6"/>
<line x1="218.60" y1="417.52" x2="218.60" y2="516.70" stroke="#d9d9d9" stroke-width="0.7"/>
<line x1="214.30" y1="512.40" x2="359.72" y2="512.40" stroke="#d9d9d9" stroke-width="0.7"/>
<line x1="214.30" y1="512.40" x2="218.60" y2="512.40" stroke="#d9d9d9" stroke-width="0.6"/>
<text transform="translate(211.00,514.60) scale(1,1)" font-size="5.500" text-anchor="end" fill="#000" stroke="#000" font-weight="normal" >0</text>
<line x1="214.30" y1="502.91" x2="218.60" y2="502.91" stroke="#d9d9d9" stroke-width="0.6"/>
<text transform="translate(211.00,505.11) scale(1,1)" font-size="5.500" text-anchor="end" fill="#000" stroke="#000" font-weight="normal" >4</text>
<line x1="214.30" y1="493.42" x2="218.60" y2="493.42" stroke="#d9d9d9" stroke-width="0.6"/>
<text transform="translate(211.00,495.62) scale(1,1)" font-size="5.500" text-anchor="end" fill="#000" stroke="#000" font-weight="normal" >8</text>
<line x1="214.30" y1="483.94" x2="218.60" y2="483.94" stroke="#d9d9d9" stroke-width="0.6"/>
<text transform="translate(211.00,486.14) scale(1,1)" font-size="5.500" text-anchor="end" fill="#000" stroke="#000" font-weight="normal" >12</text>
<line x1="214.30" y1="474.45" x2="218.60" y2="474.45" stroke="#d9d9d9" stroke-width="0.6"/>
<text transform="translate(211.00,476.65) scale(1,1)" font-size="5.500" text-anchor="end" fill="#000" stroke="#000" font-weight="normal" >16</text>
<line x1="214.30" y1="464.96" x2="218.60" y2="464.96" stroke="#d9d9d9" stroke-width="0.6"/>
<text transform="translate(211.00,467.16) scale(1,1)" font-size="5.500" text-anchor="end" fill="#000" stroke="#000" font-weight="normal" >20</text>
<line x1="214.30" y1="455.47" x2="218.60" y2="455.47" stroke="#d9d9d9" stroke-width="0.6"/>
<text transform="translate(211.00,457.67) scale(1,1)" font-size="5.500" text-anchor="end" fill="#000" stroke="#000" font-weight="normal" >24</text>
<line x1="214.30" y1="445.98" x2="218.60" y2="445.98" stroke="#d9d9d9" stroke-width="0.6"/>
<text transform="translate(211.00,448.18) scale(1,1)" font-size="5.500" text-anchor="end" fill="#000" stroke="#000" font-weight="normal" >28</text>
<line x1="214.30" y1="436.50" x2="218.60" y2="436.50" stroke="#d9d9d9" stroke-width="0.6"/>
<text transform="translate(211.00,438.70) scale(1,1)" font-size="5.500" text-anchor="end" fill="#000" stroke="#000" font-weight="normal" >32</text>
<line x1="214.30" y1="427.01" x2="218.60" y2="427.01" stroke="#d9d9d9" stroke-width="0.6"/>
<text transform="translate(211.00,429.21) scale(1,1)" font-size="5.500" text-anchor="end" fill="#000" stroke="#000" font-weight="normal" >36</text>
<line x1="214.30" y1="417.52" x2="218.60" y2="417.52" stroke="#d9d9d9" stroke-width="0.6"/>
<text transform="translate(211.00,419.72) scale(1,1)" font-size="5.500" text-anchor="end" fill="#000" stroke="#000" font-weight="normal" >40</text>
<line x1="218.60" y1="512.40" x2="218.60" y2="516.70" stroke="#d9d9d9" stroke-width="0.6"/>
<text transform="translate(218.80,524.90) scale(1,1)" font-size="5.500" text-anchor="middle" fill="#000" stroke="#000" font-weight="normal" >0</text>
<line x1="227.42" y1="512.40" x2="227.42" y2="516.70" stroke="#d9d9d9" stroke-width="0.6"/>
<text transform="translate(227.62,524.90) scale(1,1)" font-size="5.500" text-anchor="middle" fill="#000" stroke="#000" font-weight="normal" >4</text>
<line x1="236.24" y1="512.40" x2="236.24" y2="516.70" stroke="#d9d9d9" stroke-width="0.6"/>
<text transform="translate(236.44,524.90) scale(1,1)" font-size="5.500" text-anchor="middle" fill="#000" stroke="#000" font-weight="normal" >8</text>
<line x1="245.06" y1="512.40" x2="245.06" y2="516.70" stroke="#d9d9d9" stroke-width="0.6"/>
<text transform="translate(245.26,524.90) scale(1,1)" font-size="5.500" text-anchor="middle" fill="#000" stroke="#000" font-weight="normal" >12</text>
<line x1="253.88" y1="512.40" x2="253.88" y2="516.70" stroke="#d9d9d9" stroke-width="0.6"/>
<text transform="translate(254.08,524.90) scale(1,1)" font-size="5.500" text-anchor="middle" fill="#000" stroke="#000" font-weight="normal" >16</text>
<line x1="262.70" y1="512.40" x2="262.70" y2="516.70" stroke="#d9d9d9" stroke-width="0.6"/>
<text transform="translate(262.90,524.90) scale(1,1)" font-size="5.500" text-anchor="middle" fill="#000" stroke="#000" font-weight="normal" >20</text>
<line x1="271.52" y1="512.40" x2="271.52" y2="516.70" stroke="#d9d9d9" stroke-width="0.6"/>
<text transform="translate(271.72,524.90) scale(1,1)" font-size="5.500" text-anchor="middle" fill="#000" stroke="#000" font-weight="normal" >24</text>
<line x1="280.34" y1="512.40" x2="280.34" y2="516.70" stroke="#d9d9d9" stroke-width="0.6"/>
<text transform="translate(280.54,524.90) scale(1,1)" font-size="5.500" text-anchor="middle" fill="#000" stroke="#000" font-weight="normal" >28</text>
<line x1="289.16" y1="512.40" x2="289.16" y2="516.70" stroke="#d9d9d9" stroke-width="0.6"/>
<text transform="translate(289.36,524.90) scale(1,1)" font-size="5.500" text-anchor="middle" fill="#000" stroke="#000" font-weight="normal" >32</text>
<line x1="297.98" y1="512.40" x2="297.98" y2="516.70" stroke="#d9d9d9" stroke-width="0.6"/>
<text transform="translate(298.18,524.90) scale(1,1)" font-size="5.500" text-anchor="middle" fill="#000" stroke="#000" font-weight="normal" >36</text>
<line x1="306.80" y1="512.40" x2="306.80" y2="516.70" stroke="#d9d9d9" stroke-width="0.6"/>
<text transform="translate(307.00,524.90) scale(1,1)" font-size="5.500" text-anchor="middle" fill="#000" stroke="#000" font-weight="normal" >40</text>
<line x1="315.62" y1="512.40" x2="315.62" y2="516.70" stroke="#d9d9d9" stroke-width="0.6"/>
<text transform="translate(315.82,524.90) scale(1,1)" font-size="5.500" text-anchor="middle" fill="#000" stroke="#000" font-weight="normal" >44</text>
<line x1="324.44" y1="512.40" x2="324.44" y2="516.70" stroke="#d9d9d9" stroke-width="0.6"/>
<text transform="translate(324.64,524.90) scale(1,1)" font-size="5.500" text-anchor="middle" fill="#000" stroke="#000" font-weight="normal" >48</text>
<line x1="333.26" y1="512.40" x2="333.26" y2="516.70" stroke="#d9d9d9" stroke-width="0.6"/>
<text transform="translate(333.46,524.90) scale(1,1)" font-size="5.500" text-anchor="middle" fill="#000" stroke="#000" font-weight="normal" >52</text>
<line x1="342.08" y1="512.40" x2="342.08" y2="516.70" stroke="#d9d9d9" stroke-width="0.6"/>
<text transform="translate(342.28,524.90) scale(1,1)" font-size="5.500" text-anchor="middle" fill="#000" stroke="#000" font-weight="normal" >56</text>
<line x1="350.90" y1="512.40" x2="350.90" y2="516.70" stroke="#d9d9d9" stroke-width="0.6"/>
<text transform="translate(351.10,524.90) scale(1,1)" font-size="5.500" text-anchor="middle" fill="#000" stroke="#000" font-weight="normal" >60</text>
<line x1="359.72" y1="512.40" x2="359.72" y2="516.70" stroke="#d9d9d9" stroke-width="0.6"/>
<text transform="translate(359.92,524.90) scale(1,1)" font-size="5.500" text-anchor="middle" fill="#000" stroke="#000" font-weight="normal" >64</text>
<text transform="translate(287.76,531.80) scale(0.933,1)" font-size="6.302" text-anchor="middle" fill="#000" stroke="#000" font-weight="normal" >Number of cores</text>
<text x="0" y="0" font-size="6.302" text-anchor="middle" fill="#000" stroke="#000" transform="translate(201.00,465.16) rotate(-90) scale(0.933,1)">Speedup ratio</text>
<text transform="translate(220.00,414.90) scale(0.933,1)" font-size="6.431" text-anchor="start" fill="#2020ff" stroke="#2020ff" font-weight="bold" >PC-8 (64-core)</text>
<line x1="222.31" y1="510.05" x2="293.76" y2="510.05" stroke="#92d050" stroke-width="1"/>
<line x1="289.16" y1="510.05" x2="289.16" y2="501.98" stroke="#92d050" stroke-width="1"/>
<path d="M289.16 499.98L290.76 503.18L287.56 503.18Z" fill="#92d050"/>
<line x1="290.96" y1="498.18" x2="374.62" y2="498.18" stroke="#92d050" stroke-width="1"/>
<line x1="363.22" y1="418.47" x2="374.22" y2="418.47" stroke="#92d050" stroke-width="1"/>
<line x1="368.62" y1="498.18" x2="368.62" y2="420.47" stroke="#92d050" stroke-width="1"/>
<path d="M368.62 418.47L370.22 421.67L367.02 421.67Z" fill="#92d050"/>
<polyline points="220.81,509.91 223.01,507.70 227.42,505.58 231.83,503.47 236.24,502.53 240.65,500.65 245.06,499.94 249.47,498.77 253.88,499.33 258.29,497.69 262.70,498.39 267.11,499.99 271.52,501.12 275.93,499.00 280.34,501.12 284.75,499.99 289.16,498.18 297.98,500.88 306.80,501.12 315.62,500.88 324.44,502.76 333.26,501.59 342.08,502.69 350.90,502.11 359.72,502.91" fill="none" stroke="#000" stroke-width="1.4" stroke-linejoin="round"/>
<circle cx="220.81" cy="509.91" r="1.70" fill="#fff" stroke="#000" stroke-width="0.85"/>
<circle cx="223.01" cy="507.70" r="1.70" fill="#fff" stroke="#000" stroke-width="0.85"/>
<circle cx="227.42" cy="505.58" r="1.70" fill="#fff" stroke="#000" stroke-width="0.85"/>
<circle cx="231.83" cy="503.47" r="1.70" fill="#fff" stroke="#000" stroke-width="0.85"/>
<circle cx="236.24" cy="502.53" r="1.70" fill="#fff" stroke="#000" stroke-width="0.85"/>
<circle cx="240.65" cy="500.65" r="1.70" fill="#fff" stroke="#000" stroke-width="0.85"/>
<circle cx="245.06" cy="499.94" r="1.70" fill="#fff" stroke="#000" stroke-width="0.85"/>
<circle cx="249.47" cy="498.77" r="1.70" fill="#fff" stroke="#000" stroke-width="0.85"/>
<circle cx="253.88" cy="499.33" r="1.70" fill="#fff" stroke="#000" stroke-width="0.85"/>
<circle cx="258.29" cy="497.69" r="1.70" fill="#fff" stroke="#000" stroke-width="0.85"/>
<circle cx="262.70" cy="498.39" r="1.70" fill="#fff" stroke="#000" stroke-width="0.85"/>
<circle cx="267.11" cy="499.99" r="1.70" fill="#fff" stroke="#000" stroke-width="0.85"/>
<circle cx="271.52" cy="501.12" r="1.70" fill="#fff" stroke="#000" stroke-width="0.85"/>
<circle cx="275.93" cy="499.00" r="1.70" fill="#fff" stroke="#000" stroke-width="0.85"/>
<circle cx="280.34" cy="501.12" r="1.70" fill="#fff" stroke="#000" stroke-width="0.85"/>
<circle cx="284.75" cy="499.99" r="1.70" fill="#fff" stroke="#000" stroke-width="0.85"/>
<circle cx="289.16" cy="498.18" r="1.70" fill="#fff" stroke="#000" stroke-width="0.85"/>
<circle cx="297.98" cy="500.88" r="1.70" fill="#fff" stroke="#000" stroke-width="0.85"/>
<circle cx="306.80" cy="501.12" r="1.70" fill="#fff" stroke="#000" stroke-width="0.85"/>
<circle cx="315.62" cy="500.88" r="1.70" fill="#fff" stroke="#000" stroke-width="0.85"/>
<circle cx="324.44" cy="502.76" r="1.70" fill="#fff" stroke="#000" stroke-width="0.85"/>
<circle cx="333.26" cy="501.59" r="1.70" fill="#fff" stroke="#000" stroke-width="0.85"/>
<circle cx="342.08" cy="502.69" r="1.70" fill="#fff" stroke="#000" stroke-width="0.85"/>
<circle cx="350.90" cy="502.11" r="1.70" fill="#fff" stroke="#000" stroke-width="0.85"/>
<circle cx="359.72" cy="502.91" r="1.70" fill="#fff" stroke="#000" stroke-width="0.85"/>
<path d="M359.72 489.53L361.67 491.48L359.72 493.43L357.77 491.48Z" fill="#0000ff"/>
<rect x="357.90" y="452.18" width="3.64" height="3.64" fill="#0a5c2a"/>
<circle cx="359.72" cy="452.71" r="2.08" fill="#22dd22"/>
<path d="M359.72 417.26L361.80 421.00L357.64 421.00Z" fill="#ff0000"/>
<rect x="218.40" y="417.20" width="47.20" height="38.08" fill="#fff" stroke="#d9d9d9" stroke-width="0.6"/>
<line x1="221.40" y1="423.20" x2="237.60" y2="423.20" stroke="#000" stroke-width="1.4"/>
<circle cx="221.40" cy="423.20" r="1.70" fill="#fff" stroke="#000" stroke-width="0.85"/>
<circle cx="229.60" cy="423.20" r="1.70" fill="#fff" stroke="#000" stroke-width="0.85"/>
<circle cx="237.60" cy="423.20" r="1.70" fill="#fff" stroke="#000" stroke-width="0.85"/>
<text transform="translate(240.60,425.20) scale(0.933,1)" font-size="6.109" text-anchor="start" fill="#000" stroke="#000" font-weight="normal" >ca1nc(n<tspan font-size="3.8" dy="1">i</tspan><tspan dy="-1">)</tspan></text>
<path d="M221.40 428.74L223.08 430.42L221.40 432.10L219.72 430.42Z" fill="#0000ff"/>
<path d="M229.60 428.74L231.28 430.42L229.60 432.10L227.92 430.42Z" fill="#0000ff"/>
<path d="M237.60 428.74L239.28 430.42L237.60 432.10L235.92 430.42Z" fill="#0000ff"/>
<text transform="translate(240.60,432.42) scale(0.933,1)" font-size="6.109" text-anchor="start" fill="#000" stroke="#000" font-weight="normal" >ca2nc32</text>
<rect x="219.83" y="436.07" width="3.14" height="3.14" fill="#0a5c2a"/>
<rect x="228.03" y="436.07" width="3.14" height="3.14" fill="#0a5c2a"/>
<rect x="236.03" y="436.07" width="3.14" height="3.14" fill="#0a5c2a"/>
<text transform="translate(240.60,439.64) scale(0.933,1)" font-size="6.109" text-anchor="start" fill="#000" stroke="#000" font-weight="normal" >ca4nc16</text>
<circle cx="221.40" cy="444.86" r="1.79" fill="#22dd22"/>
<circle cx="229.60" cy="444.86" r="1.79" fill="#22dd22"/>
<circle cx="237.60" cy="444.86" r="1.79" fill="#22dd22"/>
<text transform="translate(240.60,446.86) scale(0.933,1)" font-size="6.109" text-anchor="start" fill="#000" stroke="#000" font-weight="normal" >ca8nc2</text>
<path d="M221.40 450.29L223.19 453.51L219.61 453.51Z" fill="#ff0000"/>
<path d="M229.60 450.29L231.39 453.51L227.81 453.51Z" fill="#ff0000"/>
<path d="M237.60 450.29L239.39 453.51L235.81 453.51Z" fill="#ff0000"/>
<text transform="translate(240.60,454.08) scale(0.933,1)" font-size="6.109" text-anchor="start" fill="#000" stroke="#000" font-weight="normal" >ca16nc4</text>
<text transform="translate(266.10,454.00) scale(0.933,1)" font-size="6.270" text-anchor="start" fill="#000" stroke="#000" font-weight="normal" >Additional speedup by <tspan fill="#2020ff" stroke="#2020ff">CAF</tspan></text>
<text transform="translate(266.10,461.30) scale(0.933,1)" font-size="6.270" text-anchor="start" fill="#000" stroke="#000" font-weight="normal" >(<tspan fill="#ff2a2a" stroke="#ff2a2a">6.72</tspan> times max. speed of OpenMP)</text>
<text transform="translate(221.30,482.80) scale(0.933,1)" font-size="6.302" text-anchor="start" fill="#000" stroke="#000" font-weight="normal" >Speedup by <tspan fill="#2020ff" stroke="#2020ff">OpenMP</tspan></text>
<text transform="translate(221.30,490.10) scale(0.933,1)" font-size="6.302" text-anchor="start" fill="#000" stroke="#000" font-weight="normal" >(<tspan fill="#ff2a2a" stroke="#ff2a2a">5.86</tspan> times 1 core speed)</text>
<text x="188.2" y="141.0" font-size="8.8" text-anchor="middle" font-family="Liberation Serif" font-weight="bold" fill="#222" stroke="#222">(a)</text>
<text x="188.2" y="545.2" font-size="9.0" text-anchor="middle" font-family="Liberation Serif" font-weight="bold" fill="#222" stroke="#222">(b)</text>
</g>
</svg>
</body></html>
